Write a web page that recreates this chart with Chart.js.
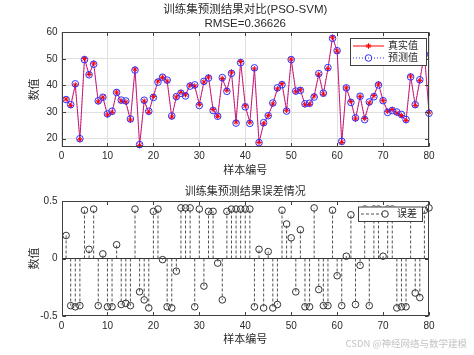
<!DOCTYPE html>
<html><head><meta charset="utf-8">
<script src="https://cdn.jsdelivr.net/npm/chart.js@4.4.0/dist/chart.umd.min.js"></script>
<style>
html,body{margin:0;padding:0;background:#fff;}
#wrap{position:relative;width:474px;height:355px;overflow:hidden;background:#fff}
#c1{position:absolute;left:0;top:0;width:474px;height:178px}
#c2{position:absolute;left:0;top:178px;width:474px;height:177px}
#wm{position:absolute;right:7px;top:336px;font:9.5px 'Noto Sans CJK SC','Liberation Sans',sans-serif;color:#c4c4c4;white-space:nowrap}
</style></head><body>
<div id="wrap"><canvas id="c1" width="474" height="178"></canvas><canvas id="c2" width="474" height="177"></canvas><div id="wm">CSDN @神经网络与数学建模</div></div>
<script>
// ---- data ----
const sampleNo = Array.from({length: 80}, (_, i) => i + 1);
const realVals = [34.9,32.4,40.2,19.6,50.1,44.1,48.4,33.8,35.6,28.9,
29.9,37.5,34.1,33.8,27.0,46.2,17.5,34.1,29.9,35.9,
41.7,43.1,41.6,28.1,35.7,37.5,36.5,40.2,39.8,32.9,
41.3,43.2,31.0,28.4,42.6,38.2,45.0,26.3,49.0,32.4,
26.2,46.2,18.6,25.6,28.7,33.0,38.7,40.7,30.7,49.9,
37.6,38.4,32.7,32.9,36.1,44.2,36.7,46.3,58.1,52.9,
18.6,39.1,34.0,27.4,35.9,27.6,33.4,36.2,40.6,34.3,
30.3,31.0,29.6,28.7,26.8,43.6,32.5,41.8,52.1,30.0];
const predVals = [34.70,32.81,40.62,20.01,49.68,44.02,47.97,34.21,35.56,29.32,
30.32,37.38,34.50,34.19,27.41,45.77,17.79,34.46,30.33,35.49,
41.27,43.11,42.02,28.53,35.81,37.06,36.06,39.76,40.22,32.47,
41.54,42.79,30.59,28.44,42.96,37.79,44.57,25.87,48.57,31.97,
25.77,46.62,18.52,26.03,28.64,33.43,39.10,40.28,30.40,49.72,
37.89,38.15,33.12,33.32,35.66,44.47,37.11,46.71,57.68,53.05,
19.01,39.08,33.62,27.80,35.96,27.17,33.81,35.77,40.17,34.28,
29.87,30.57,30.03,29.12,27.22,43.20,32.80,42.14,51.68,29.56];
const errVals = [0.20,-0.41,-0.42,-0.41,0.42,0.08,0.43,-0.41,0.04,-0.42,
-0.42,0.12,-0.40,-0.39,-0.41,0.43,-0.29,-0.36,-0.43,0.41,
0.43,-0.01,-0.42,-0.43,-0.11,0.44,0.44,0.44,-0.42,0.43,
-0.24,0.41,0.41,-0.04,-0.36,0.41,0.43,0.43,0.43,0.43,
0.43,-0.42,0.08,-0.43,0.06,-0.43,-0.40,0.42,0.30,0.18,
-0.29,0.25,-0.42,-0.42,0.44,-0.27,-0.41,-0.41,0.42,-0.15,
-0.41,0.02,0.38,-0.40,-0.06,0.43,-0.41,0.43,0.43,0.02,
0.43,0.43,-0.43,-0.42,-0.42,0.40,-0.30,-0.34,0.42,0.44];
const xTicks = [0,10,20,30,40,50,60,70,80];
const topYTicks = [20,30,40,50,60];
const botYTicks = [-0.5,0,0.5];
const topTitle = ['训练集预测结果对比(PSO-SVM)','RMSE=0.36626'];
const botTitle = '训练集预测结果误差情况';
const xLabel = '样本编号';
const yLabel = '数值';

// ---- styles ----
const FONT = "'Liberation Sans','Noto Sans CJK SC',sans-serif";
const TXT = '#2a2a2a';
const AX = '#404040';

const framePlugin = {
  id: 'frameTicks',
  afterDatasetsDraw(chart) {
    const {ctx, chartArea: a, scales: {x, y}} = chart;
    ctx.save();
    ctx.strokeStyle = AX; ctx.lineWidth = 1; ctx.setLineDash([]);
    const L = Math.round(a.left) + 0.5, R = Math.round(a.right) - 0.5;
    const T = Math.round(a.top) + 0.5, B = Math.round(a.bottom) - 0.5;
    ctx.strokeRect(L, T, R - L, B - T);
    ctx.beginPath();
    const len = 3.5;
    x.ticks.forEach(t => {
      const p = Math.round(x.getPixelForValue(t.value)) + 0.5;
      ctx.moveTo(p, B); ctx.lineTo(p, B - len);
      ctx.moveTo(p, T); ctx.lineTo(p, T + len);
    });
    y.ticks.forEach(t => {
      const p = Math.round(y.getPixelForValue(t.value)) + 0.5;
      ctx.moveTo(L, p); ctx.lineTo(L + len, p);
      ctx.moveTo(R, p); ctx.lineTo(R - len, p);
    });
    ctx.stroke();
    ctx.restore();
  }
};

const legendPlugin = {
  id: 'boxLegend',
  afterDraw(chart, args, o) {
    const ctx = chart.ctx;
    ctx.save();
    ctx.fillStyle = '#fff';
    ctx.fillRect(o.x, o.y, o.w, o.h);
    ctx.strokeStyle = AX; ctx.lineWidth = 1;
    ctx.strokeRect(o.x + 0.5, o.y + 0.5, o.w, o.h);
    o.entries.forEach(e => {
      const ld = chart.data.datasets[e.line];
      const md = chart.data.datasets[e.marker];
      ctx.save();
      ctx.strokeStyle = e.color || ld.borderColor; ctx.lineWidth = 1;
      ctx.setLineDash(ld.borderDash || []);
      ctx.beginPath(); ctx.moveTo(e.x0, e.y + 0.5); ctx.lineTo(e.x1, e.y + 0.5); ctx.stroke();
      ctx.setLineDash([]);
      ctx.strokeStyle = md.pointBorderColor; ctx.fillStyle = md.pointBackgroundColor;
      Chart.helpers.drawPoint(ctx, {pointStyle: md.pointStyle, radius: md.pointRadius, borderWidth: 1, rotation: 0}, e.mx, e.y + 0.5);
      ctx.restore();
      ctx.fillStyle = TXT; ctx.font = "10px " + FONT; ctx.textBaseline = 'middle';
      ctx.fillText(md.label, e.tx, e.y + 0.5);
    });
    ctx.restore();
  }
};

function tickFont(){ return {family: FONT, size: 10}; }

// ---- top chart ----
new Chart(document.getElementById('c1'), {
  type: 'line',
  data: {datasets: [
    {label: '真实值', data: sampleNo.map((n, i) => ({x: n, y: realVals[i]})),
     borderColor: '#e8185c', borderWidth: 1, tension: 0, pointStyle: 'star', pointRadius: 2.8,
     pointBorderColor: '#ff0000', pointBackgroundColor: '#ff0000', pointBorderWidth: 1, order: 2, clip: 6},
    {label: '预测值', data: sampleNo.map((n, i) => ({x: n, y: predVals[i]})),
     borderColor: 'rgba(40,40,255,0.55)', borderWidth: 1, borderDash: [1, 2], tension: 0, pointStyle: 'circle', pointRadius: 3.3,
     pointBorderColor: '#3030ff', pointBackgroundColor: 'rgba(0,0,0,0)', pointBorderWidth: 1, order: 1, clip: 6}
  ]},
  options: {
    responsive: false, animation: false, devicePixelRatio: 1,
    layout: {padding: {left: 0, right: 45, top: 0, bottom: 0}},
    plugins: {
      legend: {display: false}, tooltip: {enabled: false},
      title: {display: true, text: topTitle, fullSize: false, color: TXT,
        font: {family: FONT, size: 11.5, weight: 'normal', lineHeight: 1.24},
        padding: {top: 2.85, bottom: 0.85}},
      boxLegend: {x: 350, y: 38, w: 76, h: 27, entries: [
        {line: 0, marker: 0, y: 45.5, x0: 353, x1: 384, mx: 368.5, tx: 388, color: '#ff0000'},
        {line: 1, marker: 1, y: 57.5, x0: 353, x1: 384, mx: 368.5, tx: 388, color: '#3030ff'}
      ]}
    },
    scales: {
      x: {type: 'linear', min: 0, max: 80,
        afterBuildTicks: s => { s.ticks = xTicks.map(v => ({value: v})); },
        afterFit: s => { s.height = 31.3; },
        grid: {color: '#e0e0e0', drawTicks: false}, border: {display: false},
        ticks: {color: TXT, font: tickFont(), padding: 4, maxRotation: 0, autoSkip: false},
        title: {display: true, text: xLabel, color: TXT, font: {family: FONT, size: 11}, padding: {top: 0, bottom: 0}}},
      y: {type: 'linear', min: 17, max: 60,
        afterBuildTicks: s => { s.ticks = topYTicks.map(v => ({value: v})); },
        afterFit: s => { s.width = 61.5; },
        grid: {color: '#e0e0e0', drawTicks: false}, border: {display: false},
        ticks: {color: TXT, font: tickFont(), padding: 4},
        title: {display: true, text: yLabel, color: TXT, font: {family: FONT, size: 11}, padding: {top: 28.4, bottom: 0}}}
    }
  },
  plugins: [framePlugin, legendPlugin]
});

// ---- bottom chart ----
const stemPts = [];
sampleNo.forEach((n, i) => { stemPts.push({x: n, y: 0}, {x: n, y: errVals[i]}, {x: n, y: null}); });

new Chart(document.getElementById('c2'), {
  type: 'line',
  data: {datasets: [
    {label: '误差', data: stemPts, borderColor: '#505050', borderWidth: 1, borderDash: [3, 2],
     pointRadius: 0, spanGaps: false, tension: 0, order: 2},
    {label: '误差', data: sampleNo.map((n, i) => ({x: n, y: errVals[i]})), showLine: false,
     pointStyle: 'circle', pointRadius: 3.3, pointBorderColor: '#333333', pointBackgroundColor: 'rgba(0,0,0,0)',
     pointBorderWidth: 1, order: 1, clip: 6}
  ]},
  options: {
    responsive: false, animation: false, devicePixelRatio: 1,
    layout: {padding: {left: 0, right: 45, top: 0, bottom: 0}},
    plugins: {
      legend: {display: false}, tooltip: {enabled: false},
      title: {display: true, text: botTitle, fullSize: false, color: TXT,
        font: {family: FONT, size: 11, weight: 'normal', lineHeight: 1.2},
        padding: {top: 7, bottom: 2.8}},
      boxLegend: {x: 358, y: 28.5, w: 64, h: 14.5, entries: [
        {line: 0, marker: 1, y: 35.5, x0: 361, x1: 383, mx: 385, tx: 397}
      ]}
    },
    scales: {
      x: {type: 'linear', min: 0, max: 80,
        afterBuildTicks: s => { s.ticks = xTicks.map(v => ({value: v})); },
        afterFit: s => { s.height = 39; },
        grid: {display: false, drawTicks: false}, border: {display: false},
        ticks: {color: TXT, font: tickFont(), padding: 4, maxRotation: 0, autoSkip: false},
        title: {display: true, text: xLabel, color: TXT, font: {family: FONT, size: 11}, padding: {top: 0, bottom: 8.4}}},
      y: {type: 'linear', min: -0.5, max: 0.5,
        afterBuildTicks: s => { s.ticks = botYTicks.map(v => ({value: v})); },
        afterFit: s => { s.width = 61.5; },
        grid: {drawTicks: false, color: c => (c.tick && c.tick.value === 0) ? '#333333' : 'rgba(0,0,0,0)'},
        border: {display: false},
        ticks: {color: TXT, font: tickFont(), padding: 4},
        title: {display: true, text: yLabel, color: TXT, font: {family: FONT, size: 11}, padding: {top: 28.4, bottom: 0}}}
    }
  },
  plugins: [framePlugin, legendPlugin]
});
</script>
</body></html>
